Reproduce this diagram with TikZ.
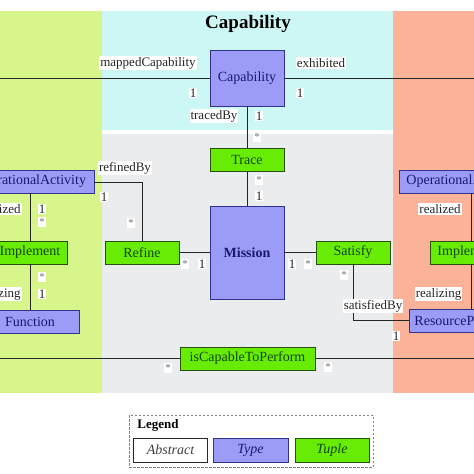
\documentclass[tikz,border=0pt]{standalone}
\usepackage{fontspec}
\setmainfont{Liberation Serif}
\definecolor{bgleft}{RGB}{216,245,140}
\definecolor{bgcyan}{RGB}{204,247,245}
\definecolor{bggray}{RGB}{234,236,238}
\definecolor{bgright}{RGB}{250,178,152}
\definecolor{typefill}{RGB}{156,156,248}
\definecolor{typedraw}{RGB}{50,50,140}
\definecolor{typetext}{RGB}{25,25,110}
\definecolor{tuplefill}{RGB}{104,236,6}
\definecolor{tupledraw}{RGB}{40,80,16}
\definecolor{tupletext}{RGB}{18,70,18}
\definecolor{stargray}{RGB}{120,120,120}
\tikzset{
  typebox/.style={draw=typedraw, line width=0.9pt, fill=typefill, text=typetext, font=\fontsize{14}{16}\selectfont, inner sep=0pt, minimum height=23pt},
  tuplebox/.style={draw=tupledraw, line width=0.9pt, fill=tuplefill, text=tupletext, font=\fontsize{14}{16}\selectfont, inner sep=0pt, minimum height=23pt},
  lbl/.style={fill=white, inner sep=1pt, font=\fontsize{13}{15}\selectfont, text=black!85},
  st/.style={fill=white, inner sep=1.5pt, font=\fontsize{11}{12}\selectfont, text=stargray},
  conn/.style={draw=black!85, line width=0.9pt}
}
\begin{document}
\begin{tikzpicture}[x=1pt,y=-1pt]
\useasboundingbox (0,0) rectangle (474,474);
\clip (0,0) rectangle (474,474);
% backgrounds
\fill[white] (0,0) rectangle (474,474);
\fill[bgleft] (0,11) rectangle (102,393);
\fill[bgcyan] (102,11) rectangle (393,130);
\fill[bggray] (102,134) rectangle (393,393);
\fill[bgright] (393,11) rectangle (474,393);
\node[font=\bfseries\fontsize{19}{22}\selectfont] (title) at (248,24) {Capability};
% boxes
\node[typebox, minimum width=74pt, minimum height=56pt] (cap) at (247,78) {Capability};
\node[tuplebox, minimum width=74pt] (trace) at (247,160) {Trace};
\node[typebox, minimum width=74pt, minimum height=93pt, font=\bfseries\fontsize{14}{16}\selectfont] (mission) at (247,252.5) {Mission};
\node[tuplebox, minimum width=74pt] (refine) at (142,252.5) {Refine};
\node[tuplebox, minimum width=74pt] (satisfy) at (353,252.5) {Satisfy};
\node[tuplebox, minimum width=135pt] (iscap) at (247.5,358.5) {isCapableToPerform};
% left column
\node[typebox, minimum width=128pt] (loa) at (30,181.5) {OperationalActivity};
\node[tuplebox, minimum width=74pt] (limp) at (30,252.5) {Implement};
\node[typebox, minimum width=98pt] (lfun) at (30,321.5) {Function};
% right column
\node[typebox, anchor=west, inner xsep=7pt] (roa) at (399,181.5) {OperationalActivity};
\node[tuplebox, anchor=west, inner xsep=7pt] (rimp) at (430,252.5) {Implement};
\node[typebox, anchor=west, inner xsep=5pt] (rrp) at (409,320.5) {ResourcePerformer};
% free ends
\coordinate (capL) at (0,78);
\coordinate (capR) at (474,78);
\coordinate (iscL) at (0,358.5);
\coordinate (iscR) at (474,358.5);
\coordinate (rfbend) at (142,182);
\coordinate (sbend) at (353,320.5);
\coordinate (rcol) at (471,0);
% connectors
\draw[conn] (cap.west) -- (capL);
\draw[conn] (cap.east) -- (capR);
\draw[conn] (cap.south) -- (trace.north);
\draw[conn] (trace.south) -- (mission.north);
\draw[conn] (refine.east) -- (mission.west |- refine.east);
\draw[conn] (mission.east |- satisfy.west) -- (satisfy.west);
\draw[conn] (refine.north) -- (rfbend) -- (loa.east |- rfbend);
\draw[conn] (satisfy.south) -- (sbend) -- (rrp.west);
\draw[conn] (iscap.west) -- (iscL);
\draw[conn] (iscap.east) -- (iscR);
\draw[conn] (loa.south) -- (limp.north);
\draw[conn] (limp.south) -- (lfun.north);
\draw[conn] (rcol |- roa.south) -- (rcol |- rimp.north);
\draw[conn] (rcol |- rimp.south) -- (rcol |- rrp.north);
% labels
\node[lbl] (l1) at (148,63) {mappedCapability};
\node[lbl] (l2) at (193,93) {1};
\node[lbl] (l3) at (321,63) {exhibited};
\node[lbl] (l4) at (300,93) {1};
\node[lbl] (l5) at (214,116) {tracedBy};
\node[lbl] (l6) at (259,116) {1};
\node[st] (l7) at (257,137) {*};
\node[st] (l8) at (259,180) {*};
\node[lbl] (l9) at (259,196) {1};
\node[st] (l10) at (185,264) {*};
\node[lbl] (l11) at (202,264) {1};
\node[lbl] (l12) at (292,264) {1};
\node[st] (l13) at (308,264) {*};
\node[lbl] (l14) at (125,168) {refinedBy};
\node[lbl] (l15) at (104,197) {1};
\node[st] (l16) at (131,223) {*};
\node[lbl] (l17) at (0,209) {realized};
\node[lbl] (l18) at (42,209) {1};
\node[st] (l19) at (42,222) {*};
\node[st] (l20) at (42,277) {*};
\node[lbl] (l21) at (42,294) {1};
\node[lbl] (l22) at (-2,294) {realizing};
\node[lbl] (l23) at (440,209) {realized};
\node[lbl] (l24) at (438.5,294) {realizing};
\node[st] (l25) at (344,275) {*};
\node[lbl] (l26) at (373,306) {satisfiedBy};
\node[lbl] (l27) at (396,336) {1};
\node[st] (l28) at (168,368) {*};
\node[st] (l29) at (328,367) {*};
% legend
\draw[gray, dash pattern=on 2.5pt off 1.5pt, line width=1pt] (129,415) rectangle (373,467);
\node[font=\bfseries\fontsize{13}{15}\selectfont] (leg) at (158,425) {Legend};
\node[draw=black!85, line width=0.9pt, fill=white, minimum width=74pt, minimum height=24pt, inner sep=0pt, font=\itshape\fontsize{14}{16}\selectfont, text=black!75] (abs) at (170.5,450) {Abstract};
\node[typebox, minimum width=75pt, minimum height=24pt, font=\itshape\fontsize{14}{16}\selectfont] (typ) at (250.5,450) {Type};
\node[tuplebox, minimum width=74pt, minimum height=24pt, font=\itshape\fontsize{14}{16}\selectfont] (tup) at (332,450) {Tuple};
\end{tikzpicture}
\end{document}
